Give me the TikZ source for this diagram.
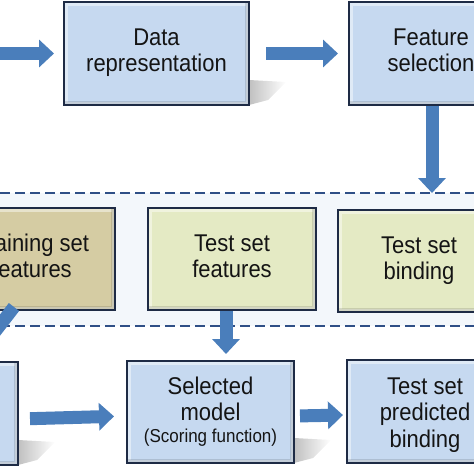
\documentclass[tikz,border=0pt]{standalone}
\usepackage{graphicx}
\usepackage{fontspec}
\setmainfont{Liberation Sans}
\usetikzlibrary{arrows.meta,fadings}
\definecolor{boxblue}{HTML}{C6D9F0}
\definecolor{boxgreen}{HTML}{E4EAC4}
\definecolor{boxtan}{HTML}{D5CCA3}
\definecolor{boxline}{HTML}{1E2B45}
\definecolor{arrowblue}{HTML}{4A7EBB}
\definecolor{dashblue}{HTML}{2F4F86}
\definecolor{bandbg}{HTML}{F3F7FB}
\newcommand\stx[1]{\scalebox{1}[1.1]{\begin{tabular}{@{}c@{}}#1\end{tabular}}}
\tikzset{
  stage/.style={draw=boxline, line width=2pt, minimum height=103pt, align=center,
    text=black!92, font=\fontsize{22}{24}\selectfont, inner sep=0pt,
    path picture={
      \draw[white, opacity=0.45, line width=7pt]
        (path picture bounding box.south west) rectangle (path picture bounding box.north east);
      \draw[black, opacity=0.12, line width=8pt]
        (path picture bounding box.south west) -- (path picture bounding box.south east)
        -- (path picture bounding box.north east);
    }},
  bluebox/.style={stage, fill=boxblue},
  greenbox/.style={stage, fill=boxgreen},
  tanbox/.style={stage, fill=boxtan},
  blockarrow/.style={line width=13pt, color=arrowblue, -{Triangle[length=15pt,width=27pt]}},
  bandline/.style={draw=dashblue, line width=2.6pt, dash pattern=on 10pt off 5pt},
  shadowwedge/.style={fill=black!45, path fading=east, opacity=0.55}
}
\begin{document}
\begin{tikzpicture}[x=1pt,y=-1pt]
\useasboundingbox (0,0) rectangle (474,474);
\clip (0,0) rectangle (474,474);
% band
\fill[bandbg] (0,193) rectangle (474,326);
% shadows
\fill[shadowwedge] (249,80) -- (286,82) -- (268,100) -- (249,105) -- cycle;
\fill[shadowwedge] (294,438) -- (331,440) -- (313,458) -- (294,463) -- cycle;
\fill[shadowwedge] (18,440) -- (55,442) -- (37,460) -- (18,465) -- cycle;
% boxes
\node[bluebox, minimum width=185pt] (data) at (156.5,53.5) {\stx{Data\\representation}};
\node[bluebox, minimum width=164pt] (fsel) at (431,53.5) {\stx{Feature\\selection}};
\node[tanbox, minimum width=166pt, minimum height=102pt] (train) at (32,259) {\stx{Training set\\features}};
\node[greenbox, minimum width=168pt, minimum height=102pt] (testfeat) at (232,259) {\stx{Test set\\features}};
\node[greenbox, minimum width=162pt, minimum height=102pt] (testbind) at (419,261) {\stx{Test set\\binding}};
\node[bluebox, minimum width=168pt] (leftbox) at (-66,413.5) {};
\node[bluebox, minimum width=167pt, minimum height=102pt] (selmodel) at (210.5,412)
  {\raisebox{-1.5pt}[\height][\depth]{\stx{Selected\\model\\[-4pt]{\fontsize{17}{20}\selectfont (Scoring function)}}}};
\node[bluebox, minimum width=156pt] (pred) at (425,411.5) {\raisebox{-4pt}[\height][\depth]{\stx{Test set\\predicted\\binding}}};
% dashed lines
\draw[bandline] (0,193) -- (474,193);
\draw[bandline] (0,326) -- (474,326);
% connectors
\coordinate (inL) at (-20,53.5);
\coordinate (fselend) at (432,193);
\draw[blockarrow, shorten >=9pt] (inL) -- (data.west);
\draw[blockarrow, shorten <=16pt, shorten >=10pt] (data.east) -- (fsel.west);
\draw[blockarrow] ([xshift=1pt]fsel.south) -- (fselend);
\draw[blockarrow] ([xshift=-18pt,yshift=4pt]train.south) -- ([xshift=32pt,yshift=-8pt]leftbox.north);
\draw[blockarrow, shorten >=6pt] ([xshift=-6pt]testfeat.south) -- ([xshift=15.5pt]selmodel.north);
\draw[blockarrow, shorten <=11pt, shorten >=12pt] ([yshift=-5.5pt]leftbox.east) -- ([yshift=-4pt]selmodel.west);
\draw[blockarrow, shorten <=5pt, shorten >=3pt] ([yshift=-4pt]selmodel.east) -- ([yshift=-3.5pt]pred.west);
\end{tikzpicture}
\end{document}
